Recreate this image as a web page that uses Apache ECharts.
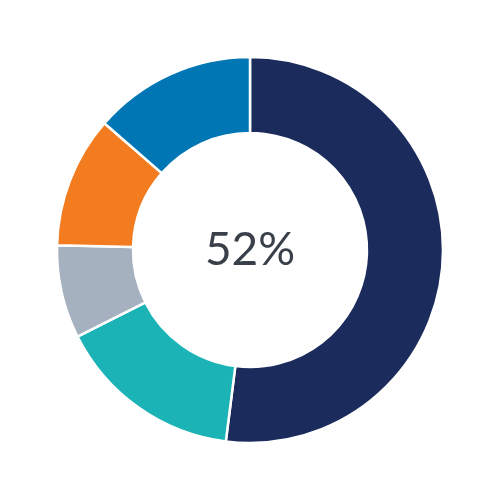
<!DOCTYPE html>
<html>
<head>
<meta charset="utf-8">
<script src="https://cdn.jsdelivr.net/npm/echarts@6/dist/echarts.min.js"></script>
<style>html,body{margin:0;padding:0;background:#fff}#c{width:500px;height:500px}</style>
</head>
<body>
<div id="c"></div>
<script>
var categories = ['A', 'B', 'C', 'D', 'E'];
var values = [52, 15.6, 7.8, 11, 13.6];
var colors = ['#1b2b5b', '#1bb3b6', '#a6b1bf', '#f47c20', '#0176b5'];
var centerLabel = '52%';

var chart = echarts.init(document.getElementById('c'));
chart.setOption({
  animation: false,
  graphic: [{
    type: 'text',
    left: 'center',
    top: 'middle',
    style: { text: centerLabel, font: '46px Lato, "Open Sans", sans-serif', fill: '#3a4049' }
  }],
  series: [{
    type: 'pie',
    center: ['50%', '50%'],
    radius: [117, 193],
    startAngle: 90,
    clockwise: true,
    label: { show: false },
    labelLine: { show: false },
    itemStyle: { borderColor: '#fff', borderWidth: 2.5 },
    emphasis: { disabled: true },
    data: categories.map(function (c, i) {
      return { name: c, value: values[i], itemStyle: { color: colors[i] } };
    })
  }]
});
</script>
</body>
</html>
